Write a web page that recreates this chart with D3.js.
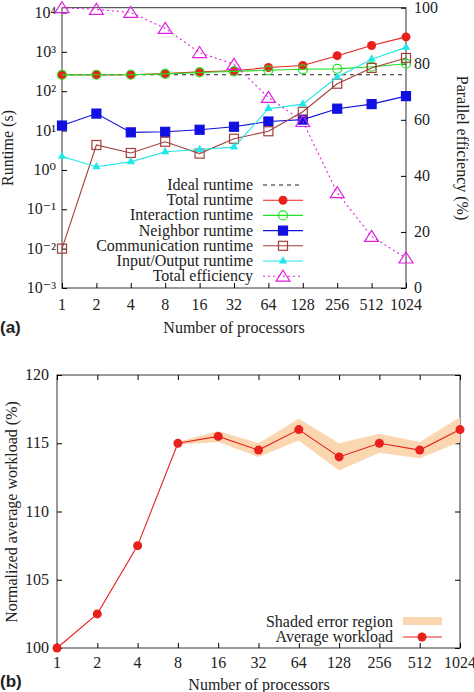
<!DOCTYPE html>
<html><head><meta charset="utf-8">
<script src="https://cdn.jsdelivr.net/npm/d3@7"></script>
<style>
body{margin:0;background:#fff}
text{font-family:"Liberation Serif","DejaVu Serif",serif;fill:#222}
</style></head><body>
<script>
const procs = ["1","2","4","8","16","32","64","128","256","512","1024"];
const totalRuntime = [263,263,263,280,310,330,400,450,800,1450,2400];
const idealRuntime = [263,263,263,263,263,263,263,263,263,263,263];
const interactionRuntime = [260,262,262,275,300,320,340,360,370,420,500];
const neighborRuntime = [13.4,27,9,9.3,10.5,12.5,17,19,36,47,75];
const commRuntime = [0.01,4.3,2.7,5.2,2.6,6.2,9.6,30,155,390,700];
const ioRuntime = [2.2,1.2,1.6,2.9,3.3,3.8,36,47,230,650,1300];
const efficiency = [100,99.4,98.3,92.6,84,79.8,68,59.4,34,18.4,10.7];
const workload = [100,102.5,107.5,115,115.5,114.5,116,114,115,114.5,116];
const workloadErr = [0,0,0,0.1,0.4,0.5,0.8,1,0.7,0.6,0.9];
const logTicks = [1e-3,1e-2,1e-1,1,10,100,1000,10000];
const effTicks = [0,20,40,60,80,100];
const wlTicks = [100,105,110,115,120];

const W = 474, H = 692, FS = 16;
const svg = d3.select("body").append("svg").attr("width", W).attr("height", H);
const sup = {"-":"\u207B","0":"\u2070","1":"\u00B9","2":"\u00B2","3":"\u00B3","4":"\u2074"};

// ---------- panel (a)
const xa = d3.scalePoint().domain(procs).range([62, 406]);
const ya = d3.scaleLog().domain([1e-3, 1e4]).range([288, 12.5]);
const ye = d3.scaleLinear().domain([0, 100]).range([288, 7.7]);
const ga = svg.append("g");
ga.append("rect").attr("x", 62).attr("y", 7.7).attr("width", 344).attr("height", 280.3)
  .attr("fill", "none").attr("stroke", "#333");

ga.append("g").attr("transform", "translate(62,0)")
  .call(d3.axisRight(ya).tickValues(logTicks).tickSize(5).tickFormat(""))
  .call(g => g.select(".domain").remove());
ga.selectAll("text.yl").data(logTicks).join("text")
  .attr("x", 56).attr("y", d => ya(d) + 5).attr("text-anchor", "end").attr("font-size", FS)
  .text(d => "10" + String(Math.round(Math.log10(d))).split("").map(c => sup[c]).join(""));
ga.append("g").attr("transform", "translate(406,0)")
  .call(d3.axisLeft(ye).tickValues(effTicks).tickSize(5).tickFormat(""))
  .call(g => g.select(".domain").remove());
ga.selectAll("text.el").data(effTicks).join("text")
  .attr("x", 414).attr("y", d => ye(d) + 5).attr("font-size", FS).text(d => d);
ga.append("g").attr("transform", "translate(0,288)")
  .call(d3.axisTop(xa).tickSize(5).tickFormat(""))
  .call(g => g.select(".domain").remove());
ga.selectAll("text.xl").data(procs).join("text")
  .attr("x", d => xa(d)).attr("y", 310).attr("text-anchor", "middle").attr("font-size", FS).text(d => d);
ga.append("text").attr("x", 234).attr("y", 333).attr("text-anchor", "middle").attr("font-size", FS).text("Number of processors");
ga.append("text").attr("transform", "translate(13,148) rotate(-90)").attr("text-anchor", "middle").attr("font-size", FS).text("Runtime (s)");
ga.append("text").attr("transform", "translate(457,148) rotate(90)").attr("text-anchor", "middle").attr("font-size", FS).text("Parallel efficiency (%)");
svg.append("text").attr("x", 0).attr("y", 333).attr("font-size", 17).attr("font-weight", "bold")
  .style("font-family", "Liberation Sans, Arial, sans-serif").text("(a)");

const series = [
  {name: "Ideal runtime", data: idealRuntime, color: "#222", dash: "4,4", mark: null},
  {name: "Total runtime", data: totalRuntime, color: "#e8211c", mark: "dot", fill: "#e8211c"},
  {name: "Interaction runtime", data: interactionRuntime, color: "#22e022", mark: "circle", fill: "none"},
  {name: "Neighbor runtime", data: neighborRuntime, color: "#1010e0", mark: "square", fill: "#1010e0"},
  {name: "Communication runtime", data: commRuntime, color: "#a0403a", mark: "square", fill: "none"},
  {name: "Input/Output runtime", data: ioRuntime, color: "#1ee8e8", mark: "tri", fill: "#1ee8e8"},
  {name: "Total efficiency", data: efficiency, color: "#e020e0", dash: "2,3", mark: "bigtri", fill: "none", eff: true}
];
const plot = ga.append("g");
function drawMark(g, m, color, fill, x, y) {
  if (m === "dot") g.append("circle").attr("cx", x).attr("cy", y).attr("r", 4.5).attr("fill", fill);
  else if (m === "circle") g.append("circle").attr("cx", x).attr("cy", y).attr("r", 4.5).attr("fill", "none").attr("stroke", color).attr("stroke-width", 1.2);
  else if (m === "square") g.append("rect").attr("x", x - 4.5).attr("y", y - 4.5).attr("width", 9).attr("height", 9)
    .attr("fill", fill).attr("stroke", color).attr("stroke-width", 1.2);
  else if (m === "tri") g.append("path").attr("d", d3.symbol(d3.symbolTriangle, 30)()).attr("transform", `translate(${x},${y})`).attr("fill", fill);
  else if (m === "bigtri") g.append("path").attr("d", `M${x},${y - 6}L${x + 7},${y + 5}L${x - 7},${y + 5}Z`)
    .attr("fill", "none").attr("stroke", color).attr("stroke-width", 1.2);
}
series.forEach(s => {
  const yy = s.eff ? ye : ya;
  const line = d3.line().x((d, i) => xa(procs[i])).y(d => yy(d));
  plot.append("path").attr("d", line(s.data)).attr("fill", "none").attr("stroke", s.color)
    .attr("stroke-width", 1.1).attr("stroke-dasharray", s.dash || null);
  if (s.mark) s.data.forEach((d, i) => drawMark(plot, s.mark, s.color, s.fill, xa(procs[i]), yy(d)));
});
const leg = ga.append("g");
series.forEach((s, i) => {
  const y = 185 + i * 15.2;
  leg.append("text").attr("x", 253).attr("y", y + 5).attr("text-anchor", "end").attr("font-size", FS).text(s.name);
  leg.append("line").attr("x1", 263).attr("x2", 303).attr("y1", y).attr("y2", y).attr("stroke", s.color)
    .attr("stroke-width", 1.1).attr("stroke-dasharray", s.dash || null);
  if (s.mark) drawMark(leg, s.mark, s.color, s.fill, 283, y);
});

// ---------- panel (b)
const xb = d3.scalePoint().domain(procs).range([57, 460]);
const yb = d3.scaleLinear().domain([100, 120]).range([648, 375]);
const gb = svg.append("g");
gb.append("rect").attr("x", 57).attr("y", 375).attr("width", 403).attr("height", 273)
  .attr("fill", "none").attr("stroke", "#333");
[[d3.axisRight(yb), 57], [d3.axisLeft(yb), 460]].forEach(([ax, tx]) =>
  gb.append("g").attr("transform", `translate(${tx},0)`).call(ax.tickValues(wlTicks).tickSize(5).tickFormat(""))
    .call(g => g.select(".domain").remove()));
[[d3.axisTop(xb), 648], [d3.axisBottom(xb), 375]].forEach(([ax, ty]) =>
  gb.append("g").attr("transform", `translate(0,${ty})`).call(ax.tickSize(5).tickFormat(""))
    .call(g => g.select(".domain").remove()));
gb.selectAll("text.yl").data(wlTicks).join("text")
  .attr("x", 49).attr("y", d => yb(d) + 5).attr("text-anchor", "end").attr("font-size", FS).text(d => d);
gb.selectAll("text.xl").data(procs).join("text")
  .attr("x", d => xb(d)).attr("y", 668).attr("text-anchor", "middle").attr("font-size", FS).text(d => d);
gb.append("text").attr("x", 259).attr("y", 690).attr("text-anchor", "middle").attr("font-size", FS).text("Number of processors");
gb.append("text").attr("transform", "translate(17,512) rotate(-90)").attr("text-anchor", "middle").attr("font-size", FS).text("Normalized average workload (%)");
svg.append("text").attr("x", 0).attr("y", 687).attr("font-size", 17).attr("font-weight", "bold")
  .style("font-family", "Liberation Sans, Arial, sans-serif").text("(b)");

const band = d3.area().x((d, i) => xb(procs[i + 3])).y0((d, i) => yb(d - workloadErr[i + 3])).y1((d, i) => yb(d + workloadErr[i + 3]));
gb.append("path").attr("d", band(workload.slice(3))).attr("fill", "#fad7b0");
gb.append("path").attr("d", d3.line().x((d, i) => xb(procs[i])).y(d => yb(d))(workload))
  .attr("fill", "none").attr("stroke", "#e8211c").attr("stroke-width", 1.1);
workload.forEach((d, i) => gb.append("circle").attr("cx", xb(procs[i])).attr("cy", yb(d)).attr("r", 4.5).attr("fill", "#e8211c"));
gb.append("text").attr("x", 393).attr("y", 627).attr("text-anchor", "end").attr("font-size", FS).text("Shaded error region");
gb.append("rect").attr("x", 403).attr("y", 617).attr("width", 39).attr("height", 8).attr("fill", "#fad7b0");
gb.append("text").attr("x", 393).attr("y", 642).attr("text-anchor", "end").attr("font-size", FS).text("Average workload");
gb.append("line").attr("x1", 403).attr("x2", 442).attr("y1", 637).attr("y2", 637).attr("stroke", "#e8211c").attr("stroke-width", 1.1);
gb.append("circle").attr("cx", 422).attr("cy", 637).attr("r", 4.5).attr("fill", "#e8211c");
</script>
</body></html>
